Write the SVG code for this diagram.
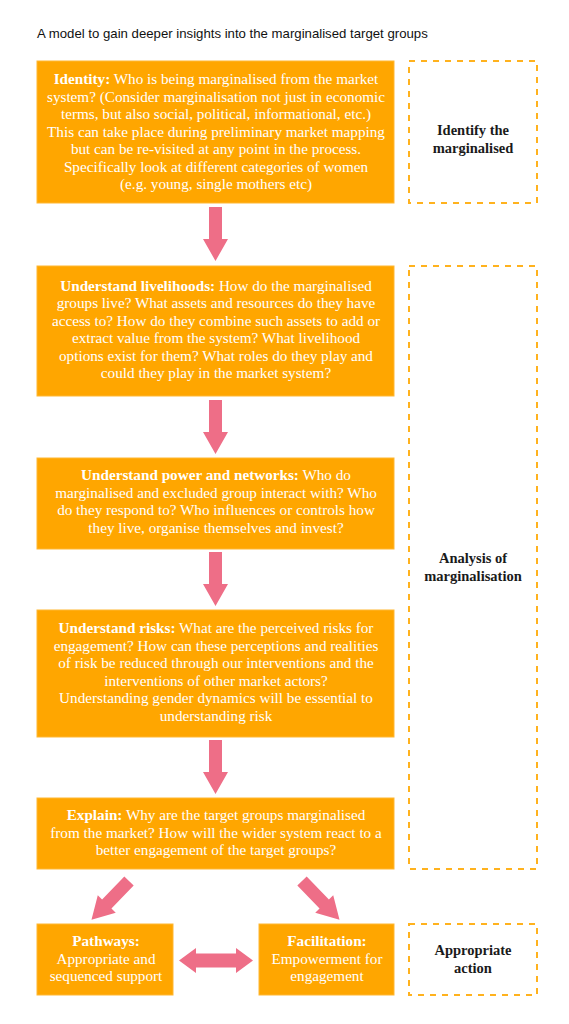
<svg xmlns="http://www.w3.org/2000/svg" xmlns:xlink="http://www.w3.org/1999/xlink" width="569" height="1024" viewBox="0 0 569 1024">
<style>
.box{fill:#FFA600;stroke:#FFB733;stroke-width:1}
.dash{fill:#FFFFFF;stroke:#FFB21E;stroke-width:2;stroke-dasharray:6 6}
.t{font-family:"Liberation Serif","DejaVu Serif",serif;font-size:15.2px;fill:#FFFFFF;text-anchor:middle}
.b{font-weight:bold}
.l{font-family:"Liberation Serif","DejaVu Serif",serif;font-size:14.5px;fill:#1A1A1A;text-anchor:middle;font-weight:bold}
.arr{fill:#EE6E87}
.title{font-family:"Liberation Sans",Arial,sans-serif;font-size:13.2px;fill:#111111}
</style>
<defs>
<path id="down" d="M-6.5,0 H6.5 V32 H12.5 L0,54 L-12.5,32 H-6.5 Z"/>
</defs>
<rect width="569" height="1024" fill="#FFFFFF"/>
<text class="title" x="37" y="38">A model to gain deeper insights into the marginalised target groups</text>

<g id="identity">
<rect class="box" x="37" y="61" width="357" height="142"/>
<text class="t" x="216" y="84"><tspan class="b">Identity:</tspan> Who is being marginalised from the market</text>
<text class="t" x="216" y="101.5">system? (Consider marginalisation not just in economic</text>
<text class="t" x="216" y="119">terms, but also social, political, informational, etc.)</text>
<text class="t" x="216" y="136.5">This can take place during preliminary market mapping</text>
<text class="t" x="216" y="154">but can be re-visited at any point in the process.</text>
<text class="t" x="216" y="171.5">Specifically look at different categories of women</text>
<text class="t" x="216" y="189">(e.g. young, single mothers etc)</text>
</g>

<g id="identify-label">
<rect class="dash" x="409" y="61" width="128" height="142"/>
<text class="l" x="473" y="135">Identify the</text>
<text class="l" x="473" y="152.7">marginalised</text>
</g>

<g id="livelihoods">
<rect class="box" x="37" y="266" width="357" height="130"/>
<text class="t" x="216" y="290.7"><tspan class="b">Understand livelihoods:</tspan> How do the marginalised</text>
<text class="t" x="216" y="308.2">groups live? What assets and resources do they have</text>
<text class="t" x="216" y="325.7">access to? How do they combine such assets to add or</text>
<text class="t" x="216" y="343.2">extract value from the system? What livelihood</text>
<text class="t" x="216" y="360.7">options exist for them? What roles do they play and</text>
<text class="t" x="216" y="378.2">could they play in the market system?</text>
</g>

<g id="analysis-label">
<rect class="dash" x="409" y="266" width="128" height="603"/>
<text class="l" x="473" y="563.3">Analysis of</text>
<text class="l" x="473" y="581">marginalisation</text>
</g>

<g id="power">
<rect class="box" x="37" y="458" width="357" height="91"/>
<text class="t" x="216" y="480"><tspan class="b">Understand power and networks:</tspan> Who do</text>
<text class="t" x="216" y="497.5">marginalised and excluded group interact with? Who</text>
<text class="t" x="216" y="515">do they respond to? Who influences or controls how</text>
<text class="t" x="216" y="532.5">they live, organise themselves and invest?</text>
</g>

<g id="risks">
<rect class="box" x="37" y="610" width="357" height="127"/>
<text class="t" x="216" y="633.3"><tspan class="b">Understand risks:</tspan> What are the perceived risks for</text>
<text class="t" x="216" y="650.8">engagement? How can these perceptions and realities</text>
<text class="t" x="216" y="668.3">of risk be reduced through our interventions and the</text>
<text class="t" x="216" y="685.8">interventions of other market actors?</text>
<text class="t" x="216" y="703.3">Understanding gender dynamics will be essential to</text>
<text class="t" x="216" y="720.8">understanding risk</text>
</g>

<g id="explain">
<rect class="box" x="37" y="798" width="357" height="71"/>
<text class="t" x="216" y="820"><tspan class="b">Explain:</tspan> Why are the target groups marginalised</text>
<text class="t" x="216" y="837.5">from the market? How will the wider system react to a</text>
<text class="t" x="216" y="855">better engagement of the target groups?</text>
</g>

<g id="pathways">
<rect class="box" x="37" y="924" width="136" height="71"/>
<text class="t b" x="106" y="945.7">Pathways:</text>
<text class="t" x="106" y="963.5">Appropriate and</text>
<text class="t" x="106" y="981">sequenced support</text>
</g>

<g id="facilitation">
<rect class="box" x="259" y="924" width="135" height="71"/>
<text class="t b" x="327" y="945.7">Facilitation:</text>
<text class="t" x="327" y="963.5">Empowerment for</text>
<text class="t" x="327" y="981">engagement</text>
</g>

<g id="action-label">
<rect class="dash" x="409" y="924" width="128" height="71"/>
<text class="l" x="473" y="955">Appropriate</text>
<text class="l" x="473" y="972.7">action</text>
</g>

<g id="connectors" class="arr">
<use xlink:href="#down" transform="translate(215.5,207)"/>
<use xlink:href="#down" transform="translate(215.5,400)"/>
<use xlink:href="#down" transform="translate(215.5,552)"/>
<use xlink:href="#down" transform="translate(215.5,740)"/>
<use xlink:href="#down" transform="translate(129,881) rotate(44)"/>
<use xlink:href="#down" transform="translate(302,881) rotate(-44)"/>
<path d="M179,960.5 L196,948 V953.5 H236 V948 L253,960.5 L236,973 V967.5 H196 V973 Z"/>
</g>
</svg>
